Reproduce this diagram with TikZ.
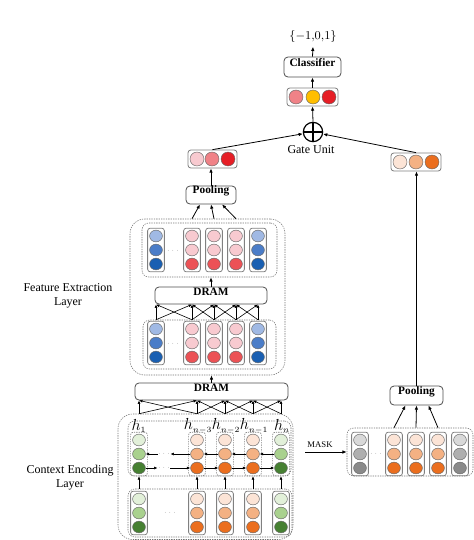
\documentclass[tikz,border=0pt]{standalone}
\usepackage{fontspec}
\setmainfont{Liberation Serif}
\usetikzlibrary{arrows.meta,positioning,fit,calc,shapes.geometric}

\definecolor{bu1}{RGB}{160,185,228}
\definecolor{bu2}{RGB}{75,125,200}
\definecolor{bu3}{RGB}{25,95,178}
\definecolor{pk1}{RGB}{248,202,208}
\definecolor{pk2}{RGB}{236,82,86}
\definecolor{rd1}{RGB}{240,130,135}
\definecolor{rd2}{RGB}{230,30,38}
\definecolor{gd1}{RGB}{255,190,0}
\definecolor{gn1}{RGB}{226,240,217}
\definecolor{gn2}{RGB}{169,209,142}
\definecolor{gn3}{RGB}{70,128,50}
\definecolor{or1}{RGB}{252,228,214}
\definecolor{or2}{RGB}{244,177,131}
\definecolor{or3}{RGB}{235,110,30}
\definecolor{gy1}{RGB}{217,217,217}
\definecolor{gy2}{RGB}{175,175,175}
\definecolor{gy3}{RGB}{138,138,138}

\tikzset{
  cell/.style={
    ellipse,
    draw=black!60,
    line width=0.35pt,
    minimum width=9.6pt,
    minimum height=8.8pt,
    inner sep=0pt,
  },
  vcell/.style={cell, circle, minimum size=10.5pt},
  col/.style={draw=black!50, line width=0.6pt, rounded corners=2pt, inner sep=1.3pt},
  hcol/.style={col, line width=0.5pt, dash pattern=on 1pt off 0.8pt},
  grp/.style={draw=black!55, dash pattern=on 1pt off 0.8pt, rounded corners=5pt, inner sep=0pt},
  outer/.style={grp, rounded corners=11pt},
  blk/.style={
    draw=black!70,
    line width=0.6pt,
    rounded corners=3pt,
    inner sep=0pt,
    font=\bfseries\fontsize{8.5}{9}\selectfont,
  },
  arr/.style={-{Latex[length=3.2pt, width=2.6pt]}, line width=0.6pt},
  sarr/.style={-{Latex[length=2.6pt, width=2.2pt]}, line width=0.45pt},
  lbl/.style={font=\fontsize{9}{10.5}\selectfont, align=center},
  hlbl/.style={font=\fontsize{11.5}{12}\selectfont, inner sep=0pt},
  dotsl/.style={font=\tiny, text=black!55, inner sep=0pt},
  gate/.style={
    circle, draw, line width=0.9pt, minimum size=14.5pt, inner sep=0pt,
    path picture={
      \draw[line width=0.9pt] (path picture bounding box.north) -- (path picture bounding box.south)
        (path picture bounding box.west) -- (path picture bounding box.east);
    },
  },
}

% one column of three cells: name, x, y of top cell, three colours, box style
\newcommand{\cellcol}[7]{%
  \node[cell, fill=#4] (#1a) at (#2,#3) {};
  \node[cell, fill=#5] (#1b) at (#2,#3+14) {};
  \node[cell, fill=#6] (#1c) at (#2,#3+28) {};
  \node[#7, fit=(#1a)(#1c)] (#1) {};
}

\begin{document}
\begin{tikzpicture}[x=0.75pt, y=-0.75pt]
  \useasboundingbox (0,0) rectangle (474,540);

  % output part
  \node[lbl] (out) at (313,36) {$\{-1{,}0{,}1\}$};
  \node[blk, fit={(284,57) (341,77)}] (cls) {Classifier};
  \node[vcell, fill=rd1] (t1) at (296,97) {};
  \node[vcell, fill=gd1] (t2) at (313,97) {};
  \node[vcell, fill=rd2] (t3) at (329,97) {};
  \node[col, fit=(t1)(t3)] (tvec) {};
  \node[gate] (gate) at (313,132) {};
  \node[lbl] (gatelbl) at (311,150) {Gate Unit};

  \node[vcell, fill=pk1] (l1) at (197,159) {};
  \node[vcell, fill=rd1] (l2) at (212,159) {};
  \node[vcell, fill=rd2] (l3) at (228,159) {};
  \node[col, fit=(l1)(l3)] (lvec) {};

  \node[vcell, fill=or1] (r1) at (400,162) {};
  \node[vcell, fill=or2] (r2) at (416,162) {};
  \node[vcell, fill=or3] (r3) at (432,162) {};
  \node[col, fit=(r1)(r3)] (rvec) {};

  \draw[arr] (cls.north) -- (out.south);
  \draw[arr] (tvec.north) -- (cls.south);
  \draw[arr] (gate.north) -- (tvec.south);
  \draw[arr] (lvec.north) -- (gate);
  \draw[arr] (rvec.north) -- (gate);

  % feature extraction layer
  \node[blk, fit={(186,186) (236,204)}] (pool1) {Pooling};
  \node[outer, fit={(130,219) (285,375)}] (feat) {};
  \node[grp, fit={(142,223) (277,277)}] (fuin) {};
  \node[grp, fit={(143,320) (276,369)}] (flin) {};
  \node[blk, fit={(155,287) (267,304)}] (dram1) {DRAM};

  \foreach \i/\x/\ca/\cb/\cc in {1/156/bu1/bu2/bu3, 2/192/pk1/pk1/pk2, 3/214/pk1/pk1/pk2,
      4/236/pk1/pk1/pk2, 5/258/bu1/bu2/bu3} {
    \cellcol{fu\i}{\x}{236}{\ca}{\cb}{\cc}{col}
    \cellcol{fl\i}{\x}{329}{\ca}{\cb}{\cc}{col}
  }
  \node[dotsl] (fudots) at (173,251) {$\cdots$};
  \node[dotsl] (fldots) at (173,344) {$\cdots$};
  \node[lbl] (featlbl) at (68,296) {Feature Extraction\\Layer};

  \draw[arr] (pool1.north) -- (pool1.north |- lvec.south);
  \draw[arr] (fu2 |- feat.north) -- ($(pool1.south)+(-11,0)$);
  \draw[arr] (fu3 |- feat.north) -- (pool1.south);
  \draw[arr] (fu4 |- feat.north) -- ($(pool1.south)+(11,0)$);
  \draw[arr] (dram1.north) -- (dram1.north |- fuin.south);
  \foreach \i in {1,...,5}
    \draw[sarr] (fl\i |- flin.north) -- (fl\i |- dram1.south);
  \foreach \i/\j in {1/2, 2/1, 2/3, 3/2, 3/4, 4/3, 4/5, 5/4}
    \draw[sarr] (fl\i |- flin.north) -- (fl\j |- dram1.south);

  % context encoding layer
  \node[blk, fit={(135,383) (288,400)}] (dram2) {DRAM};
  \node[outer, fit={(118,414) (293,539.5)}] (ctx) {};
  \node[grp, fit={(128,421) (291,476)}] (cuin) {};
  \node[grp, fit={(128,489) (292,537)}] (clin) {};

  \foreach \i/\x/\ca/\cb/\cc in {1/139/gn1/gn2/gn3, 2/197/or1/or2/or3, 3/225/or1/or2/or3,
      4/253/or1/or2/or3, 5/281/gn1/gn2/gn3} {
    \cellcol{cu\i}{\x}{440}{\ca}{\cb}{\cc}{hcol}
    \cellcol{cl\i}{\x}{499}{\ca}{\cb}{\cc}{col}
    \draw[sarr] (cl\i |- clin.north) -- (cu\i.south);
  }
  \node[dotsl] (cldots) at (170,513) {$\cdots$};
  \node[dotsl] (cmdots) at (164,454) {$\cdots$};
  \node[dotsl] (cbdots) at (164,468) {$\cdots$};
  \node[lbl] (ctxlbl) at (70,478) {Context Encoding\\Layer};

  \node[hlbl] (h1) at (139,426) {$h_{\scriptscriptstyle 1}$};
  \node[hlbl] (h2) at (198,426) {$h_{\scriptscriptstyle n{-}3}$};
  \node[hlbl] (h3) at (226,426) {$h_{\scriptscriptstyle n{-}2}$};
  \node[hlbl] (h4) at (254,426) {$h_{\scriptscriptstyle n{-}1}$};
  \node[hlbl] (h5) at (282,426) {$h_{\scriptscriptstyle n}$};

  % backward and forward passes
  \draw[sarr] (cu5b.west) -- (cu4b.east);
  \draw[sarr] (cu4b.west) -- (cu3b.east);
  \draw[sarr] (cu3b.west) -- (cu2b.east);
  \draw[sarr] (cu2b.west) -- (cmdots.east);
  \draw[sarr] (cmdots.west) -- (cu1b.east);
  \draw[sarr] (cu1c.east) -- (cbdots.west);
  \draw[sarr] (cbdots.east) -- (cu2c.west);
  \draw[sarr] (cu2c.east) -- (cu3c.west);
  \draw[sarr] (cu3c.east) -- (cu4c.west);
  \draw[sarr] (cu4c.east) -- (cu5c.west);

  \draw[arr] (dram2.north) -- (dram2.north |- feat.south);
  \foreach \i in {1,...,5}
    \draw[sarr] (cu\i |- ctx.north) -- (cu\i |- dram2.south);
  \foreach \i/\j in {1/2, 2/1, 2/3, 3/2, 3/4, 4/3, 4/5, 5/4}
    \draw[sarr] (cu\i |- ctx.north) -- (cu\j |- dram2.south);

  % masked branch
  \node[grp, fit={(347,428) (473,476)}] (msk) {};
  \foreach \i/\x/\ca/\cb/\cc in {1/360/gy1/gy2/gy3, 2/394/or1/or2/or3, 3/416/or1/or2/or3,
      4/438/or1/or2/or3, 5/460/gy1/gy2/gy3}
    \cellcol{m\i}{\x}{440}{\ca}{\cb}{\cc}{col};
  \node[dotsl] (mdots) at (376,454) {$\cdots$};
  \node[blk, fit={(390,386) (443,405)}] (pool2) {Pooling};

  \draw[arr, shorten <=9pt] (ctx.east |- msk.west) -- node[above, font=\fontsize{6.5}{7}\selectfont] (masklbl) {MASK} (msk.west);
  \draw[arr] (m2 |- msk.north) -- ($(pool2.south)+(-11,0)$);
  \draw[arr] (m3 |- msk.north) -- (pool2.south);
  \draw[arr] (m4 |- msk.north) -- ($(pool2.south)+(12,0)$);
  \draw[arr] (pool2.north) -- (pool2.north |- rvec.south);
\end{tikzpicture}
\end{document}
